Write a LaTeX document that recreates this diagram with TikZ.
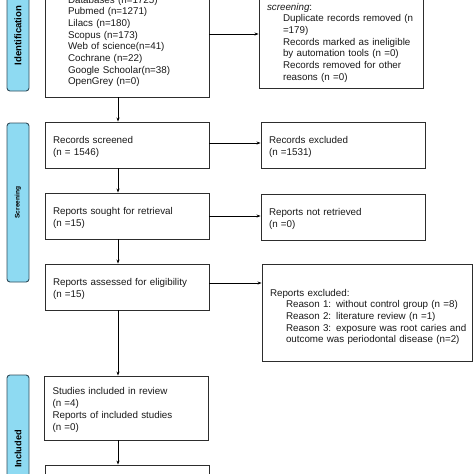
\documentclass[tikz,border=0pt]{standalone}
\usepackage{fontspec}
\setmainfont{Liberation Sans}
\usetikzlibrary{arrows.meta}
\definecolor{phasefill}{RGB}{142,218,242}
\definecolor{phasedraw}{RGB}{50,78,92}
\definecolor{boxline}{RGB}{45,45,45}
\definecolor{txt}{RGB}{25,25,25}
\newcommand{\ind}[1]{\hspace*{16pt}\mbox{#1}}
\newcommand{\tp}[1]{\rule{0pt}{#1}}
\tikzset{
  flowbox/.style={draw=boxline, line width=0.9pt, fill=white, rectangle,
    inner xsep=8pt, inner ysep=0pt, align=left, text=txt,
    font=\fontsize{9.8}{11.7}\selectfont},
  phase/.style={draw=phasedraw, line width=0.9pt, fill=phasefill, rounded corners=3pt,
    rotate=90, minimum height=22pt, inner sep=0pt, text=black},
  arr/.style={draw=black, line width=0.6pt, -{Stealth[length=4pt,width=3pt]}},
}
\begin{document}
\begin{tikzpicture}[x=1pt,y=-1pt]
\useasboundingbox (0,0) rectangle (474,474);
\clip (0,0) rectangle (474,474);
\fill[white] (0,0) rectangle (474,474);
\coordinate (ax) at (118,0);

% phase bars
\node[phase, minimum width=111pt, font=\bfseries\fontsize{9.6}{11}\selectfont] (pid) at (18,35.5) {Identification};
\node[phase, minimum width=159pt, font=\bfseries\fontsize{6.6}{8}\selectfont] (pscr) at (18,202.5) {Screening};
\node[phase, minimum width=148pt, font=\bfseries\fontsize{9.2}{11}\selectfont] (pinc) at (18,449) {Included};

% identification
\node[flowbox, inner xsep=23pt, text width=118pt, minimum width=164pt, minimum height=115pt] (idl) at (127,39.5)
  {\tp{11pt}Databases (n=1725)\\Pubmed (n=1271)\\Lilacs (n=180)\\Scopus (n=173)\\Web of science(n=41)\\Cochrane (n=22)\\Google Schoolar(n=38)\\OpenGrey (n=0)};
\node[flowbox, text width=148pt, minimum width=164pt, minimum height=108pt] (idr) at (341,34)
  {\tp{12.6pt}\\\textit{screening}:\\\ind{Duplicate records removed (n}\\\ind{=179)}\\\ind{Records marked as ineligible}\\\ind{by automation tools (n =0)}\\\ind{Records removed for other}\\\ind{reasons (n =0)}};

% screening
\node[flowbox, text width=148pt, minimum width=164pt, minimum height=46pt] (rs) at (127,145)
  {\tp{11pt}Records screened\\(n = 1546)};
\node[flowbox, text width=148pt, minimum width=164pt, minimum height=46pt] (rex) at (343,145)
  {\tp{11pt}Records excluded\\(n =1531)};
\node[flowbox, text width=148pt, minimum width=164pt, minimum height=46pt] (rsr) at (127,216)
  {\tp{11pt}Reports sought for retrieval\\(n =15)};
\node[flowbox, text width=148pt, minimum width=164pt, minimum height=46pt] (rnr) at (343,217)
  {\tp{11pt}Reports not retrieved\\(n =0)};
\node[flowbox, text width=148pt, minimum width=164pt, minimum height=46pt] (rae) at (127,287)
  {\tp{11pt}Reports assessed for eligibility\\(n =15)};
\node[flowbox, text width=194pt, minimum width=210pt, minimum height=97pt] (rexc) at (367,312.5)
  {\tp{16pt}Reports excluded:\\\ind{Reason 1: without control group (n =8)}\\\ind{Reason 2: literature review (n =1)}\\\ind{Reason 3: exposure was root caries and}\\\ind{outcome was periodontal disease (n=2)}};

% included
\node[flowbox, text width=148pt, minimum width=164pt, minimum height=64pt] (si) at (126.5,408)
  {\tp{11pt}Studies included in review\\(n =4)\\Reports of included studies\\(n =0)};
\node[flowbox, text width=148pt, minimum width=164pt, minimum height=40pt] (last) at (127,485) {};

% vertical arrows
\draw[arr] (idl.south -| ax) -- (rs.north -| ax);
\draw[arr] (rs.south -| ax) -- (rsr.north -| ax);
\draw[arr] (rsr.south -| ax) -- (rae.north -| ax);
\draw[arr] (rae.south -| ax) -- (si.north -| ax);
\draw[arr] (si.south -| ax) -- (last.north -| ax);

% horizontal arrows
\draw[arr] (idl.east |- idr.west) -- (idr.west);
\draw[arr] ([yshift=2pt]rs.east) -- ([yshift=2pt]rs.east -| rex.west);
\draw[arr] (rsr.east) -- (rsr.east -| rnr.west);
\draw[arr] ([yshift=4pt]rae.east) -- ([yshift=4pt]rae.east -| rexc.west);
\end{tikzpicture}
\end{document}
